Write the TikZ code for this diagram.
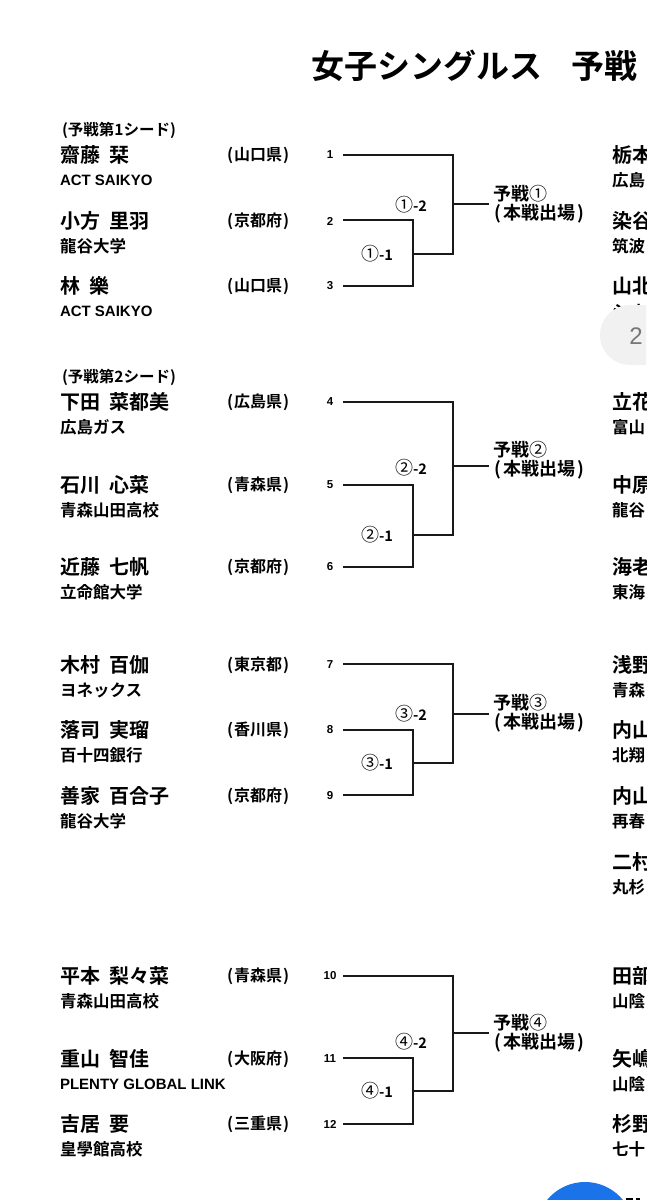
\documentclass[tikz,border=0pt]{standalone}
\usepackage{fontspec}
\setmainfont{Noto Sans CJK JP}[BoldFont={* Bold}]
\newfontfamily\latinf{Liberation Sans}
\definecolor{blue1}{HTML}{1A73E8}
\definecolor{gray1}{HTML}{F1F1F1}
\definecolor{gray2}{HTML}{777777}
\newcommand{\cdg}[1]{{\fontsize{18}{18}\mdseries\selectfont #1}}
\newcommand{\wsp}{\hspace{9pt}}
\newcommand{\prefbox}[1]{(\hspace{1pt}#1\hspace{1pt})}
\tikzset{
  x=1pt,y=-1pt,
  base/.style={inner sep=0pt,outer sep=0pt,anchor=west},
  pname/.style={base,font=\fontsize{20}{20}\bfseries\selectfont},
  pclub/.style={base,font=\fontsize{16.5}{16.5}\bfseries\selectfont},
  pclublat/.style={base,font=\fontsize{15}{16}\bfseries\latinf\selectfont},
  pref/.style={base,font=\fontsize{16}{16}\bfseries\selectfont},
  seed/.style={base,font=\fontsize{15.5}{16}\bfseries\selectfont},
  num/.style={inner sep=0pt,outer sep=0pt,font=\fontsize{11.5}{12}\bfseries\latinf\selectfont},
  mlab/.style={inner sep=0pt,outer sep=0pt,anchor=center,font=\fontsize{14.5}{15}\bfseries\selectfont},
  qual/.style={base,font=\fontsize{18}{18.5}\bfseries\selectfont,align=left},
  brk/.style={line width=1.15pt,black!90,line join=miter},
  title/.style={base,font=\fontsize{33}{34}\bfseries\selectfont}
}
% \Bracket{id}{y1}{y2}{y3}{yinner}{yout}{ylab2}{circ}
\newcommand{\Bracket}[8]{%
  \coordinate (s#1a) at (343,#2);
  \coordinate (s#1b) at (343,#3);
  \coordinate (s#1c) at (343,#4);
  \coordinate (j#1i) at (413,#5);
  \coordinate (j#1o) at (453,#6);
  \coordinate (e#1) at (489,#6);
  \draw[brk] (s#1b) -| (j#1i) |- (s#1c);
  \draw[brk] (s#1a) -| (j#1o) |- (j#1i);
  \draw[brk] (j#1o) -- (e#1);
  \node[mlab] (ma#1) at (377,#5) {\cdg{#8}-1};
  \node[mlab] (mb#1) at (411,#7) {\cdg{#8}-2};
}
\begin{document}
\begin{tikzpicture}
\useasboundingbox (0,0) rectangle (646,1200);
\clip (0,0) rectangle (646,1200);
\fill[white] (0,0) rectangle (646,1200);

\node[title] (t) at (311,66) {女子シングルス};
\node[title] (t2) at (571,66) {予戦};

\node[seed] (s1) at (62,130) {(予戦第1シード)};
\node[seed] (s2) at (62,377) {(予戦第2シード)};

\foreach \n/\nm/\cl/\prf/\y in {
 1/齋藤\wsp 栞/ACT SAIKYO/山口県/155,
 3/林\wsp 樂/ACT SAIKYO/山口県/286,
 11/重山\wsp 智佳/PLENTY GLOBAL LINK/大阪府/1059}{
  \node[pname] (n\n) at (60,\y) {\nm};
  \node[pclublat] (c\n) at (60,\y+25) {\cl};
  \node[pref] (p\n) at (227,\y) {\prefbox{\prf}};
  \node[num] (k\n) at (330,\y) {\n};
}
\foreach \n/\nm/\cl/\prf/\y in {
 2/小方\wsp 里羽/龍谷大学/京都府/221,
 4/下田\wsp 菜都美/広島ガス/広島県/402,
 5/石川\wsp 心菜/青森山田高校/青森県/485,
 6/近藤\wsp 七帆/立命館大学/京都府/567,
 7/木村\wsp 百伽/ヨネックス/東京都/665,
 8/落司\wsp 実瑠/百十四銀行/香川県/730,
 9/善家\wsp 百合子/龍谷大学/京都府/796,
 10/平本\wsp 梨々菜/青森山田高校/青森県/976,
 12/吉居\wsp 要/皇學館高校/三重県/1124}{
  \node[pname] (n\n) at (60,\y) {\nm};
  \node[pclub] (c\n) at (60,\y+25) {\cl};
  \node[pref] (p\n) at (227,\y) {\prefbox{\prf}};
  \node[num] (k\n) at (330,\y) {\n};
}

\Bracket{1}{155}{220}{286}{254}{204}{205}{①}
\Bracket{2}{402}{485}{567}{535}{466}{468}{②}
\Bracket{3}{664}{730}{795}{763}{714}{714}{③}
\Bracket{4}{976}{1058}{1124}{1091}{1033}{1042}{④}

\foreach \i/\y in {1/204,2/460,3/713,4/1033}{
  \node[qual] (q\i) at (493,\y) {予戦\ifcase\i\or\cdg{①}\or\cdg{②}\or\cdg{③}\or\cdg{④}\fi\\\hspace{1.5pt}(\hspace{2pt}本戦出場\hspace{2pt})};
}

\foreach \i/\nm/\cl/\y in {
 a/栃本/広島/155, b/染谷/筑波/221, c/山北/シオ/286,
 d/立花/富山/402, e/中原/龍谷/485, f/海老/東海/567,
 g/浅野/青森/665, h/内山/北翔/730, i/内山/再春/796, j/二村/丸杉/862,
 k/田部/山陰/976, l/矢嶋/山陰/1059, m/杉野/七十/1124}{
  \node[pname] (rn\i) at (612,\y) {\nm};
  \node[pclub] (rc\i) at (612,\y+25) {\cl};
}

\fill[gray1] (630,335) circle[radius=30];
\fill[gray1] (630,305) rectangle (650,365);
\node[inner sep=0pt,text=gray2,font=\fontsize{24}{24}\latinf\selectfont] (pg) at (636,336) {2};
\fill[blue1] (585,1231) circle[radius=49];
\fill[black] (626,1198) rectangle (633,1200);
\fill[black] (636,1198) rectangle (640,1200);
\end{tikzpicture}
\end{document}
